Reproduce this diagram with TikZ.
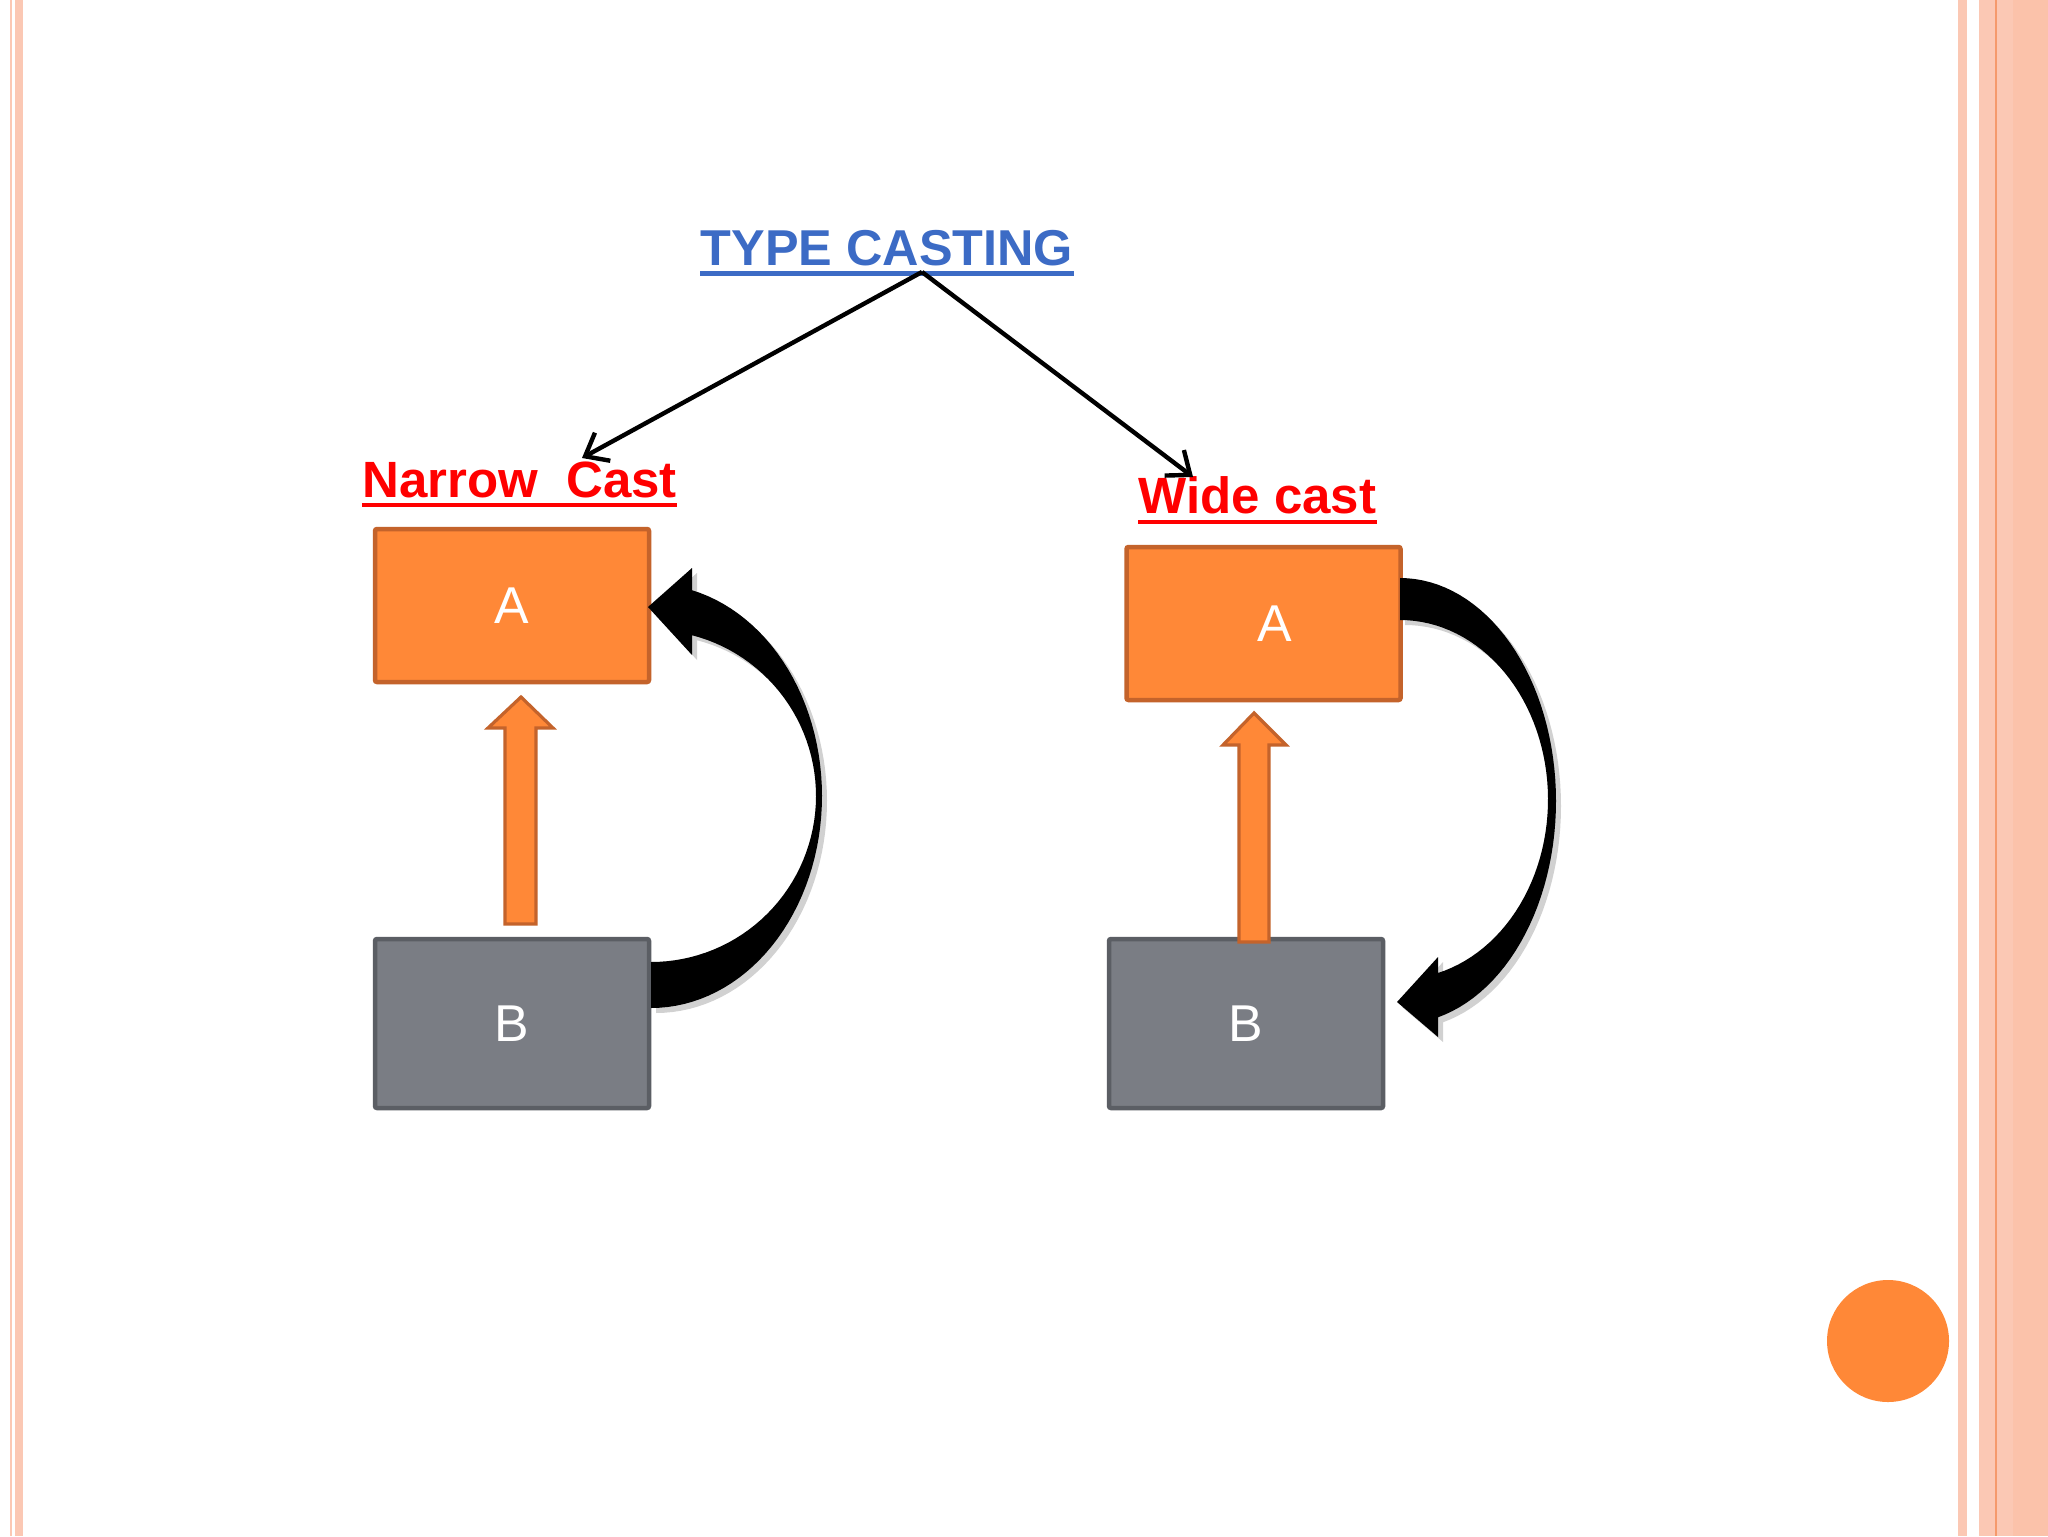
\documentclass[tikz,border=0pt]{standalone}
\usepackage{fontspec}
\setmainfont{Liberation Sans}
\usetikzlibrary{arrows.meta}
\definecolor{peach}{HTML}{FBC8B4}
\definecolor{peachd}{HTML}{FBC2AA}
\definecolor{stripeor}{HTML}{F59A6C}
\definecolor{boxor}{HTML}{FF8837}
\definecolor{boxorb}{HTML}{C4632B}
\definecolor{boxgr}{HTML}{7A7D84}
\definecolor{boxgrb}{HTML}{5B5E64}
\definecolor{titleblue}{HTML}{3C6BC5}
\definecolor{labred}{HTML}{FF0000}
\begin{document}
\begin{tikzpicture}[x=0.5pt,y=-0.5pt,
  obox/.style={draw=boxorb, fill=boxor, line width=2.25pt, rounded corners=1pt,
    minimum width=137pt, minimum height=76.5pt, text=white, inner sep=0pt,
    font=\fontsize{25.9}{30}\selectfont},
  gbox/.style={draw=boxgrb, fill=boxgr, line width=2.25pt, rounded corners=1pt,
    minimum width=137pt, minimum height=84.5pt, text=white, inner sep=0pt,
    font=\fontsize{25.9}{30}\selectfont},
  upar/.style={draw=boxorb, fill=boxor, line width=1.6pt, line join=miter},
  curvar/.style={fill=black},
  shad/.style={fill=black, opacity=0.18},
  ptr/.style={draw=black, line width=2.2pt, -{Straight Barb[length=10pt,width=16pt,line width=2.2pt]}},
  lab/.style={anchor=base, inner sep=0pt, text=labred, font=\bfseries\fontsize{25.5}{30}\selectfont}
]
\useasboundingbox (0,0) rectangle (2048,1536);
\fill[white] (0,0) rectangle (2048,1536);
% side stripes
\fill[peach] (10,0) rectangle (12,1536);
\fill[peach] (15,0) rectangle (23,1536);
\fill[peach] (1958,0) rectangle (1967,1536);
\fill[peach] (1979,0) rectangle (1995,1536);
\fill[stripeor] (1995,0) rectangle (1997,1536);
\fill[peach] (1997,0) rectangle (2013,1536);
\fill[peachd] (2013,0) rectangle (2048,1536);
% circle
\fill[boxor] (1888,1341) circle [radius=30.5pt];

% title
\node[anchor=base, inner sep=0pt, text=titleblue, font=\bfseries\fontsize{25.2}{30}\selectfont] (title) at (887,265) {TYPE CASTING};
\draw[titleblue, line width=2.5pt] ([yshift=-4pt]title.base west) -- ([yshift=-4pt]title.base east);

% labels
\node[lab] (narrow) at (519.5,497) {Narrow\ \ Cast};
\draw[labred, line width=2pt] ([yshift=-4pt]narrow.base west) -- ([yshift=-4pt]narrow.base east);
\node[lab] (wide) at (1257.5,513) {Wide cast};
\draw[labred, line width=2pt] ([yshift=-4.5pt]wide.base west) -- ([yshift=-4.5pt]wide.base east);

% boxes
\node[obox] (A1) at (512,605.5) {A};
\node[gbox] (B1) at (512,1023.5) {B};
\node[obox] (A2) at (1263.5,623.5) {\hspace*{11.5pt}A};
\node[gbox] (B2) at (1246,1023.5) {B};

% orange up arrows
\draw[upar] (505,924) -- (505,728) -- (488,728) -- (521,697) -- (553,728) -- (536,728) -- (536,924) -- cycle;
\draw[upar] (1239,942) -- (1239,745) -- (1223,745) -- (1254,713) -- (1286,745) -- (1269,745) -- (1269,942) -- cycle;

% shadows of curved arrows
\begin{scope}[shift={(5,5)}]
\fill[shad] (651,1008)
  -- plot[domain=90:-76.1, samples=60, variable=\t] ({651+171*cos(\t)},{796+212*sin(\t)})
  -- (692,568) -- (648,607) -- (692,655) -- (692,635)
  -- plot[domain=-75.6:90, samples=60, variable=\t] ({651+165*cos(\t)},{796+166*sin(\t)})
  -- cycle;
\fill[shad] (1400,578)
  -- plot[domain=-90:75.9, samples=60, variable=\t] ({1400+156*cos(\t)},{801+223*sin(\t)})
  -- (1438,1037) -- (1397,1002) -- (1438,957) -- (1438,973)
  -- plot[domain=75.1:-90, samples=60, variable=\t] ({1400+148*cos(\t)},{799.5+179.5*sin(\t)})
  -- cycle;
\end{scope}
% curved black arrows
\fill[curvar] (651,1008)
  -- plot[domain=90:-76.1, samples=60, variable=\t] ({651+171*cos(\t)},{796+212*sin(\t)})
  -- (692,568) -- (648,607) -- (692,655) -- (692,635)
  -- plot[domain=-75.6:90, samples=60, variable=\t] ({651+165*cos(\t)},{796+166*sin(\t)})
  -- cycle;
\fill[curvar] (1400,578)
  -- plot[domain=-90:75.9, samples=60, variable=\t] ({1400+156*cos(\t)},{801+223*sin(\t)})
  -- (1438,1037) -- (1397,1002) -- (1438,957) -- (1438,973)
  -- plot[domain=75.1:-90, samples=60, variable=\t] ({1400+148*cos(\t)},{799.5+179.5*sin(\t)})
  -- cycle;

% pointers from title
\coordinate (v) at (922,272);
\coordinate (nt) at (582,458);
\coordinate (wt) at (1193,477);
\draw[ptr] (v) -- (nt);
\draw[ptr] (v) -- (wt);
\end{tikzpicture}
\end{document}
